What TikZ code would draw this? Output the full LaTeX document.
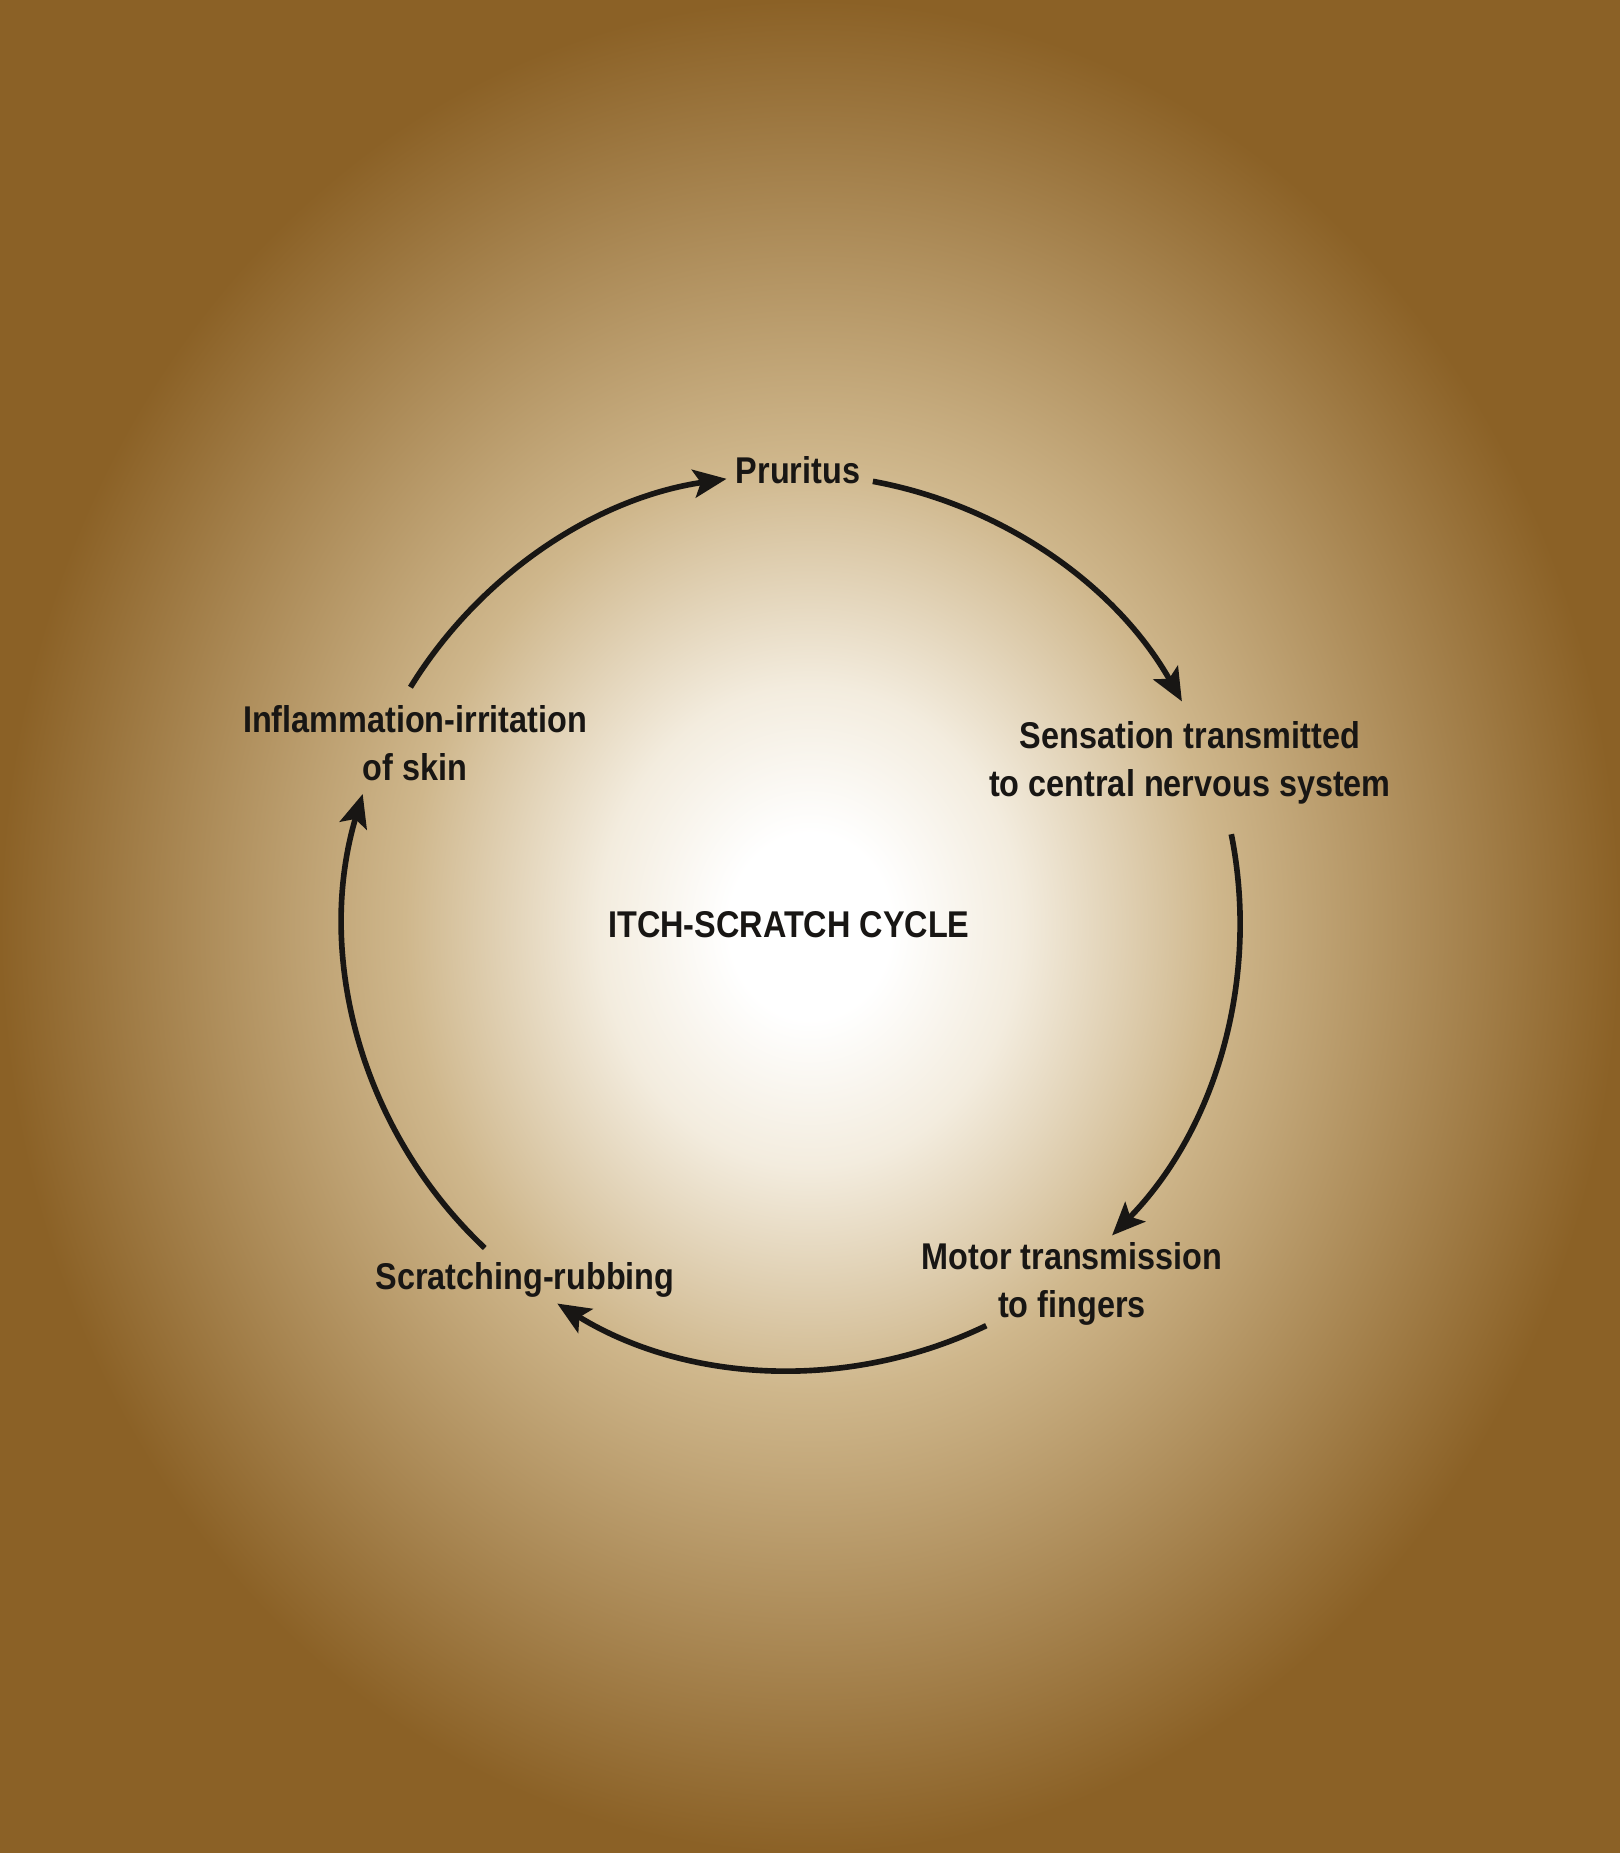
\documentclass[tikz,border=0pt]{standalone}
\usepackage{fontspec}
\setmainfont{Liberation Sans}[FakeStretch=0.87]
\usetikzlibrary{arrows.meta}
\definecolor{itchbrown}{RGB}{139,97,38}
\definecolor{itchtan}{RGB}{207,183,140}
\definecolor{itchcream}{RGB}{243,236,222}
\definecolor{itchink}{RGB}{24,22,20}
\pgfdeclareradialshading{itchglow}{\pgfpoint{0bp}{0bp}}{color(0bp)=(white); color(2.5bp)=(white); color(6.5bp)=(itchcream); color(12.5bp)=(itchtan); color(25bp)=(itchbrown); color(50bp)=(itchbrown)}
\begin{document}
\begin{tikzpicture}[lbl/.style={font=\bfseries\fontsize{10.6}{13.8}\selectfont, align=center, text=itchink}, >={Stealth[length=3.3mm, width=2.8mm, inset=0.7mm]}]
	\shade[shading=itchglow] (0,0) rectangle (16.2,18.53);
	\coordinate (c) at (7.92,9.31);
	\node[lbl] (cycle) at (7.89,9.28) {ITCH-SCRATCH CYCLE};
	\node[lbl] (pruritus) at (7.98,13.83) {Pruritus};
	\node[lbl] (sensation) at (11.90,10.90) {Sensation transmitted\\to central nervous system};
	\node[lbl] (motor) at (10.72,5.69) {Motor transmission\\to fingers};
	\node[lbl] (scratching) at (5.25,5.73) {Scratching-rubbing};
	\node[lbl] (inflammation) at (4.15,11.10) {Inflammation-irritation\\of skin};
	\foreach \s/\e in {148.4/98.4, 79.6/29.5, 11.3/-44.4, -64.3/-121.6, 226.7/163.4}{
		\draw[->, line width=1.6pt, color=itchink] ([shift={(\s:4.48)}]c) arc (\s:\e:4.48);
	}
\end{tikzpicture}
\end{document}
